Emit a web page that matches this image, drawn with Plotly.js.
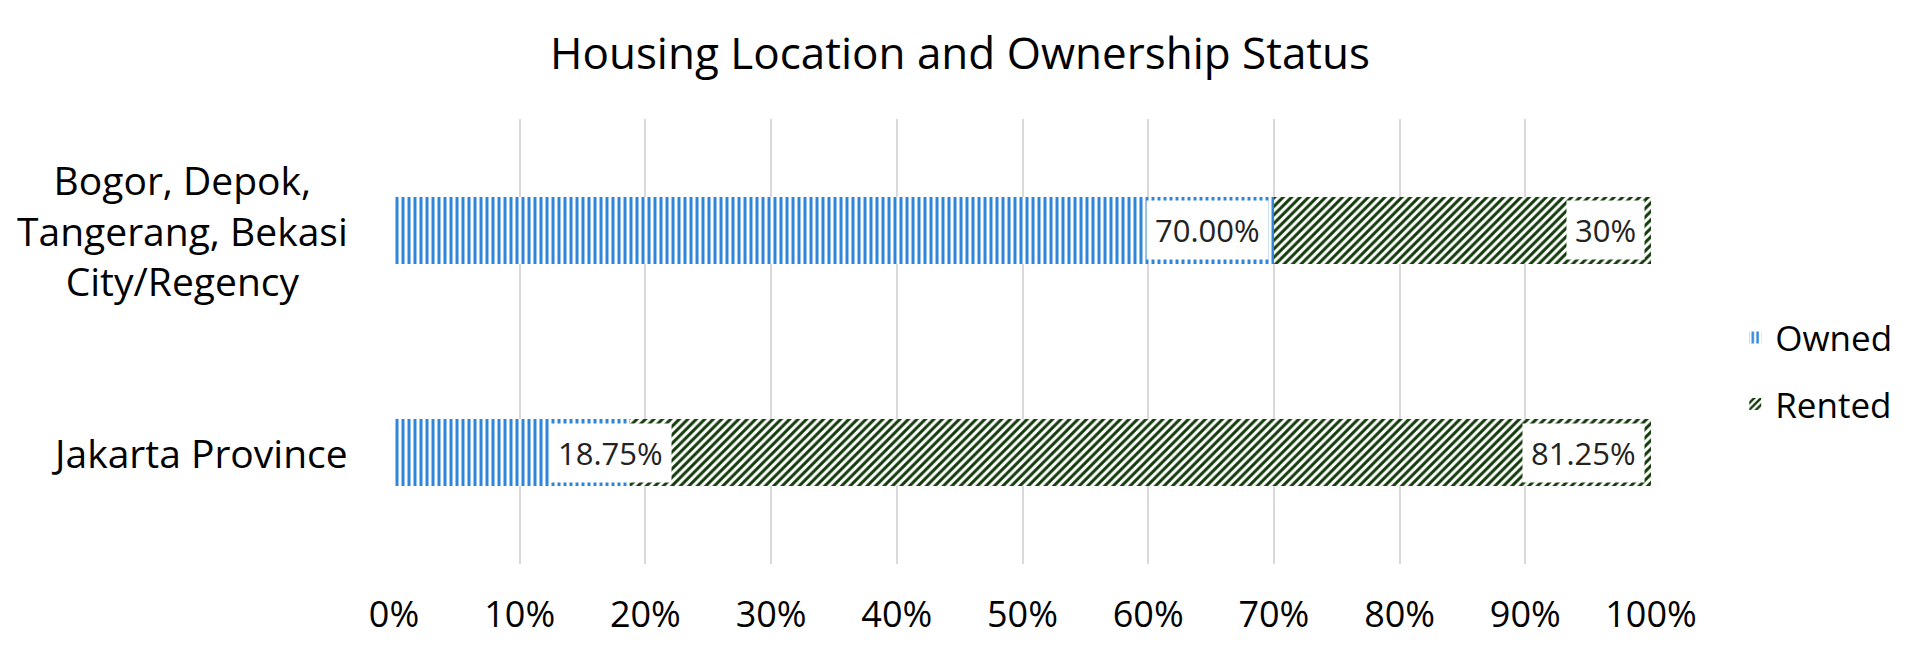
<!DOCTYPE html>
<html>
<head>
<meta charset="utf-8">
<script src="https://cdn.plot.ly/plotly-3.0.1.min.js"></script>
<style>html,body{margin:0;padding:0;background:#fff;}#chart{width:1920px;height:656px;}</style>
</head>
<body>
<div id="chart"></div>
<script>
// ---- data ----
const categories = ['Jakarta Province', 'Bogor, Depok, Tangerang, Bekasi City/Regency'];
const categoryLabels = ['Jakarta Province', 'Bogor, Depok,<br>Tangerang, Bekasi<br>City/Regency'];
const owned = [0.1875, 0.70];
const rented = [0.8125, 0.30];
const ownedLabels = ['18.75%', '70.00%'];
const rentedLabels = ['81.25%', '30%'];
const seriesNames = ['Owned', 'Rented'];
const xTickVals = [0, 0.1, 0.2, 0.3, 0.4, 0.5, 0.6, 0.7, 0.8, 0.9, 1.0];
const xTickText = ['0%', '10%', '20%', '30%', '40%', '50%', '60%', '70%', '80%', '90%', '100%'];

// ---- style ----
const FONT = 'Open Sans, sans-serif';
const ownedLabelShift = [42, -5];
const rentedLabelShift = [-6, -6];

const traces = [
  {
    type: 'bar', orientation: 'h', name: seriesNames[0], legendgroup: 'g1',
    y: categories, x: owned,
    marker: {color: '#ffffff', line: {width: 0},
      pattern: {shape: '|', fgcolor: '#2E86DA', bgcolor: '#ffffff', fgopacity: 1, size: 6, solidity: 0.5, fillmode: 'replace'}},
    hoverinfo: 'skip'
  },
  {
    type: 'bar', orientation: 'h', name: seriesNames[1], legendgroup: 'g2',
    y: categories, x: rented,
    marker: {color: '#ffffff', line: {width: 0},
      pattern: {shape: '/', fgcolor: '#123A0A', bgcolor: '#ffffff', fgopacity: 1, size: 6, solidity: 0.5, fillmode: 'replace'}},
    hoverinfo: 'skip'
  }
];

const annotations = [];
categories.forEach((c, i) => {
  annotations.push({
    xref: 'paper', yref: 'y', x: 0, y: c, xanchor: 'right', yanchor: 'middle',
    xshift: -44, text: categoryLabels[i], align: 'center', showarrow: false,
    font: {family: FONT, size: 39, color: '#000'}
  });
  annotations.push({
    xref: 'x', yref: 'y', x: owned[i], y: c, xanchor: 'right', yanchor: 'middle',
    xshift: ownedLabelShift[i], text: ownedLabels[i], showarrow: false,
    bgcolor: '#ffffff', borderpad: 8,
    font: {family: FONT, size: 31, color: '#222'}
  });
  annotations.push({
    xref: 'x', yref: 'y', x: owned[i] + rented[i], y: c, xanchor: 'right', yanchor: 'middle',
    xshift: rentedLabelShift[i], text: rentedLabels[i], showarrow: false,
    bgcolor: '#ffffff', borderpad: 8,
    font: {family: FONT, size: 31, color: '#222'}
  });
});

const layout = {
  width: 1920, height: 656,
  paper_bgcolor: '#ffffff', plot_bgcolor: '#ffffff',
  margin: {l: 394, r: 269, t: 119, b: 92, pad: 0},
  barmode: 'stack', bargap: 0.70,
  title: {text: 'Housing Location and Ownership Status', xref: 'container', x: 0.5, xanchor: 'center',
    yref: 'container', y: 1 - 54 / 656, yanchor: 'middle',
    font: {family: FONT, size: 44, color: '#000'}},
  xaxis: {
    range: [0, 1], tickvals: xTickVals, ticktext: xTickText,
    showgrid: true, gridcolor: '#d9d9d9', gridwidth: 2,
    zeroline: false, showline: false, ticks: '', ticklabelstandoff: 26,
    tickfont: {family: FONT, size: 36, color: '#000'}, fixedrange: true
  },
  yaxis: {
    type: 'category', categoryorder: 'array', categoryarray: categories,
    showticklabels: false, showgrid: false, zeroline: false, showline: false, ticks: '', fixedrange: true
  },
  showlegend: true,
  legend: {
    x: 1.067, xanchor: 'left', y: 0.575, yanchor: 'top',
    traceorder: 'grouped', tracegroupgap: 18,
    font: {family: FONT, size: 35, color: '#000'}, bgcolor: 'rgba(0,0,0,0)'
  },
  annotations: annotations
};

Plotly.newPlot('chart', traces, layout, {displayModeBar: false, staticPlot: true});
</script>
</body>
</html>
